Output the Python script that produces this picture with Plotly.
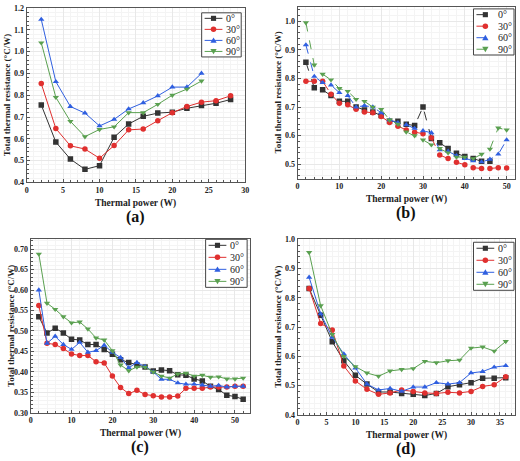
import plotly.graph_objects as go

# ---------------- data ----------------
angles = ["0°", "30°", "60°", "90°"]

a_x_long = [2, 4, 6, 8, 10, 12, 14, 16, 18, 20, 22, 24, 26, 28]
a_x_short = [2, 4, 6, 8, 10, 12, 14, 16, 18, 20, 22, 24]
a_0 = [0.755, 0.585, 0.507, 0.46, 0.477, 0.607, 0.668, 0.703, 0.718, 0.722, 0.74, 0.753, 0.763, 0.78]
a_30 = [0.853, 0.647, 0.568, 0.553, 0.511, 0.569, 0.641, 0.645, 0.683, 0.72, 0.748, 0.768, 0.775, 0.797]
a_60 = [1.147, 0.862, 0.748, 0.718, 0.659, 0.689, 0.737, 0.765, 0.797, 0.837, 0.837, 0.9]
a_90 = [1.04, 0.79, 0.68, 0.61, 0.643, 0.655, 0.72, 0.72, 0.758, 0.80, 0.828, 0.865]

b_x = [2, 4, 6, 8, 10, 12, 14, 16, 18, 20, 22, 24, 26, 28, 30, 32, 34, 36, 38, 40, 42, 44, 46, 48, 50]
b_x0 = [2, 4, 6, 8, 10, 12, 14, 16, 18, 20, 22, 24, 26, 28, 30, 32, 34, 36, 38, 40, 42, 44, 46]
b_0 = [0.857, 0.767, 0.76, 0.74, 0.72, 0.72, 0.70, 0.69, 0.683, 0.67, 0.65, 0.65, 0.64, 0.635, 0.70,
       0.59, 0.575, 0.555, 0.538, 0.527, 0.52, 0.51, 0.51]
b_30 = [0.79, 0.79, 0.79, 0.745, 0.713, 0.708, 0.692, 0.683, 0.68, 0.667, 0.646, 0.633, 0.62, 0.612, 0.607,
        0.593, 0.532, 0.52, 0.507, 0.498, 0.488, 0.485, 0.485, 0.488, 0.487]
b_60 = [0.917, 0.807, 0.785, 0.777, 0.75, 0.74, 0.70, 0.705, 0.70, 0.68, 0.655, 0.645, 0.638, 0.625, 0.617,
        0.61, 0.55, 0.545, 0.53, 0.52, 0.512, 0.508, 0.517, 0.535, 0.585]
b_90 = [0.995, 0.847, 0.815, 0.795, 0.765, 0.755, 0.727, 0.72, 0.70, 0.692, 0.655, 0.64, 0.613, 0.60, 0.585,
        0.568, 0.555, 0.54, 0.525, 0.525, 0.52, 0.535, 0.553, 0.627, 0.62]

c_x = [2, 4, 6, 8, 10, 12, 14, 16, 18, 20, 22, 24, 26, 28, 30, 32, 34, 36, 38, 40, 42, 44, 46, 48, 50, 52]
c_0 = [0.535, 0.495, 0.507, 0.495, 0.48, 0.478, 0.467, 0.467, 0.455, 0.443, 0.43, 0.423, 0.417, 0.412, 0.402,
       0.405, 0.403, 0.393, 0.392, 0.383, 0.378, 0.365, 0.357, 0.343, 0.34, 0.333]
c_30 = [0.562, 0.47, 0.467, 0.457, 0.444, 0.44, 0.44, 0.425, 0.422, 0.39, 0.362, 0.347, 0.355, 0.345, 0.342,
        0.339, 0.339, 0.341, 0.36, 0.36, 0.36, 0.363, 0.363, 0.363, 0.365, 0.365]
c_60 = [0.60, 0.47, 0.487, 0.467, 0.455, 0.472, 0.448, 0.452, 0.465, 0.448, 0.435, 0.41, 0.423, 0.413, 0.40,
        0.382, 0.382, 0.373, 0.37, 0.37, 0.368, 0.365, 0.367, 0.363, 0.365, 0.365]
c_90 = [0.688, 0.568, 0.553, 0.535, 0.52, 0.522, 0.505, 0.483, 0.478, 0.452, 0.417, 0.403, 0.412, 0.412, 0.40,
        0.39, 0.385, 0.395, 0.397, 0.39, 0.392, 0.387, 0.388, 0.383, 0.383, 0.385]

d_x = [2, 4, 6, 8, 10, 12, 14, 16, 18, 20, 22, 24, 26, 28, 30, 32, 34, 36]
d_0 = [0.832, 0.74, 0.65, 0.585, 0.535, 0.505, 0.478, 0.478, 0.473, 0.47, 0.466, 0.473, 0.496, 0.503, 0.51,
       0.525, 0.525, 0.527]
d_30 = [0.832, 0.712, 0.69, 0.567, 0.516, 0.487, 0.47, 0.475, 0.485, 0.48, 0.475, 0.473, 0.477, 0.475, 0.48,
        0.497, 0.503, 0.53]
d_60 = [0.87, 0.745, 0.665, 0.608, 0.56, 0.505, 0.485, 0.49, 0.48, 0.495, 0.495, 0.51, 0.505, 0.51, 0.543,
        0.548, 0.563, 0.568]
d_90 = [0.955, 0.773, 0.675, 0.60, 0.565, 0.543, 0.532, 0.55, 0.555, 0.558, 0.583, 0.578, 0.585, 0.587, 0.628,
        0.632, 0.618, 0.651]

panel_labels = ["(a)", "(b)", "(c)", "(d)"]
x_title = "Thermal power (W)"
y_title = "Total thermal resistance (°C/W)"

# ---------------- styling ----------------
colors = ["#333333", "#e0302f", "#2f5fe0", "#5aa050"]
symbols = ["square", "circle", "triangle-up", "triangle-down"]
FONT = "Liberation Serif, Times New Roman, serif"
W, H = 520, 461


def px(v):
    return v / W


def py(v):
    return 1 - v / H


# plot frames in pixel coords: (left, right, top, bottom)
frames = [(25, 246, 4, 182), (299, 519, 3, 178), (29, 251, 240, 417), (299, 519, 240, 419)]
xranges = [[0, 30], [0, 52], [0, 53.7], [0, 37.6]]
yranges = [[0.4, 1.2], [0.45, 1.05], [0.30, 0.724], [0.4, 1.0]]
xdticks = [5, 10, 10, 5]
ydticks = [0.1, 0.1, 0.05, 0.1]
yfmts = [".1f", ".1f", ".2f", ".1f"]
dashes = ["solid", "dash", "solid", "solid"]
# legend boxes in pixel coords: (left, top, width, height)
legend_boxes = [(202, 9, 40, 45), (477, 5, 41, 47), (206, 240, 42, 49), (477, 243, 41, 49)]

panels = [
    [(a_x_long, a_0), (a_x_long, a_30), (a_x_short, a_60), (a_x_short, a_90)],
    [(b_x0, b_0), (b_x, b_30), (b_x, b_60), (b_x, b_90)],
    [(c_x, c_0), (c_x, c_30), (c_x, c_60), (c_x, c_90)],
    [(d_x, d_0), (d_x, d_30), (d_x, d_60), (d_x, d_90)],
]

fig = go.Figure()

for p, series in enumerate(panels):
    xa = "x" if p == 0 else f"x{p+1}"
    ya = "y" if p == 0 else f"y{p+1}"
    for s, (xs, ys) in enumerate(series):
        fig.add_trace(go.Scatter(
            x=xs, y=ys, name=angles[s], mode="lines+markers",
            xaxis=xa, yaxis=ya, showlegend=False,
            line=dict(color=colors[s], width=1, dash=dashes[p]),
            marker=dict(symbol=symbols[s], size=5.5, color=colors[s]),
        ))

layout = dict(
    width=W, height=H, margin=dict(l=0, r=0, t=0, b=0),
    paper_bgcolor="white", plot_bgcolor="white",
    font=dict(family=FONT, color="#222"),
    showlegend=False,
)

annotations = []
shapes = []


def glyph(kind, cx, cy, color):
    r = 2.6
    if kind == "square":
        return dict(type="rect", xref="paper", yref="paper", x0=px(cx - r), x1=px(cx + r),
                    y0=py(cy + r), y1=py(cy - r), fillcolor=color, line=dict(width=0))
    if kind == "circle":
        return dict(type="circle", xref="paper", yref="paper", x0=px(cx - r - 0.2), x1=px(cx + r + 0.2),
                    y0=py(cy + r + 0.2), y1=py(cy - r - 0.2), fillcolor=color, line=dict(width=0))
    if kind == "triangle-up":
        path = (f"M {px(cx - 3.2)} {py(cy + 2.5)} L {px(cx + 3.2)} {py(cy + 2.5)} "
                f"L {px(cx)} {py(cy - 3.0)} Z")
    else:
        path = (f"M {px(cx - 3.2)} {py(cy - 2.5)} L {px(cx + 3.2)} {py(cy - 2.5)} "
                f"L {px(cx)} {py(cy + 3.0)} Z")
    return dict(type="path", xref="paper", yref="paper", path=path, fillcolor=color, line=dict(width=0))


for p in range(4):
    l, r, t, b = frames[p]
    xk = "xaxis" if p == 0 else f"xaxis{p+1}"
    yk = "yaxis" if p == 0 else f"yaxis{p+1}"
    ya = "y" if p == 0 else f"y{p+1}"
    xa = "x" if p == 0 else f"x{p+1}"
    common = dict(showline=True, linecolor="#555", linewidth=1, mirror=True,
                  ticks="inside", ticklen=3, tickcolor="#555",
                  showgrid=True, gridcolor="#e8e8e8", gridwidth=1, zeroline=False,
                  tickfont=dict(family=FONT, size=8, color="#222", weight="bold"),
                  minor=dict(ticks="inside", ticklen=2, tickcolor="#555", showgrid=True,
                             gridcolor="#f4f4f4"))
    layout[xk] = dict(domain=[px(l), px(r)], range=xranges[p], anchor=ya,
                      dtick=xdticks[p], tick0=0, **common)
    layout[yk] = dict(domain=[py(b), py(t)], range=yranges[p], anchor=xa,
                      dtick=ydticks[p], tick0=0, tickformat=yfmts[p], **common)
    cx = (l + r) / 2
    annotations.append(dict(text="<b>" + x_title + "</b>", xref="paper", yref="paper",
                            x=px(cx), y=py(b + 21), xanchor="center", yanchor="middle",
                            showarrow=False, font=dict(family=FONT, size=9.5, color="#222")))
    annotations.append(dict(text="<b>" + panel_labels[p] + "</b>", xref="paper", yref="paper",
                            x=px(cx), y=py(b + 35), xanchor="center", yanchor="middle",
                            showarrow=False, font=dict(family=FONT, size=16, color="#111")))
    annotations.append(dict(text="<b>" + y_title + "</b>", xref="paper", yref="paper",
                            x=px(l - 20), y=py((t + b) / 2), xanchor="center", yanchor="middle",
                            textangle=-90, showarrow=False,
                            font=dict(family=FONT, size=9, color="#222")))
    # legend (drawn as shapes + text)
    bl, bt, bw, bh = legend_boxes[p]
    shapes.append(dict(type="rect", xref="paper", yref="paper", x0=px(bl), x1=px(bl + bw),
                       y0=py(bt + bh), y1=py(bt), fillcolor="white", line=dict(color="#444", width=1)))
    step = bh / 4
    for s in range(4):
        ry = bt + step * (s + 0.5)
        shapes.append(dict(type="line", xref="paper", yref="paper", x0=px(bl + 3), x1=px(bl + 21),
                           y0=py(ry), y1=py(ry), line=dict(color=colors[s], width=1, dash=dashes[p])))
        shapes.append(glyph(symbols[s], bl + 12, ry, colors[s]))
        annotations.append(dict(text=angles[s], xref="paper", yref="paper", x=px(bl + 23), y=py(ry),
                                xanchor="left", yanchor="middle", showarrow=False,
                                font=dict(family=FONT, size=10, color="#222")))

layout["annotations"] = annotations
layout["shapes"] = shapes
fig.update_layout(**layout)
fig.write_html("out.html")
